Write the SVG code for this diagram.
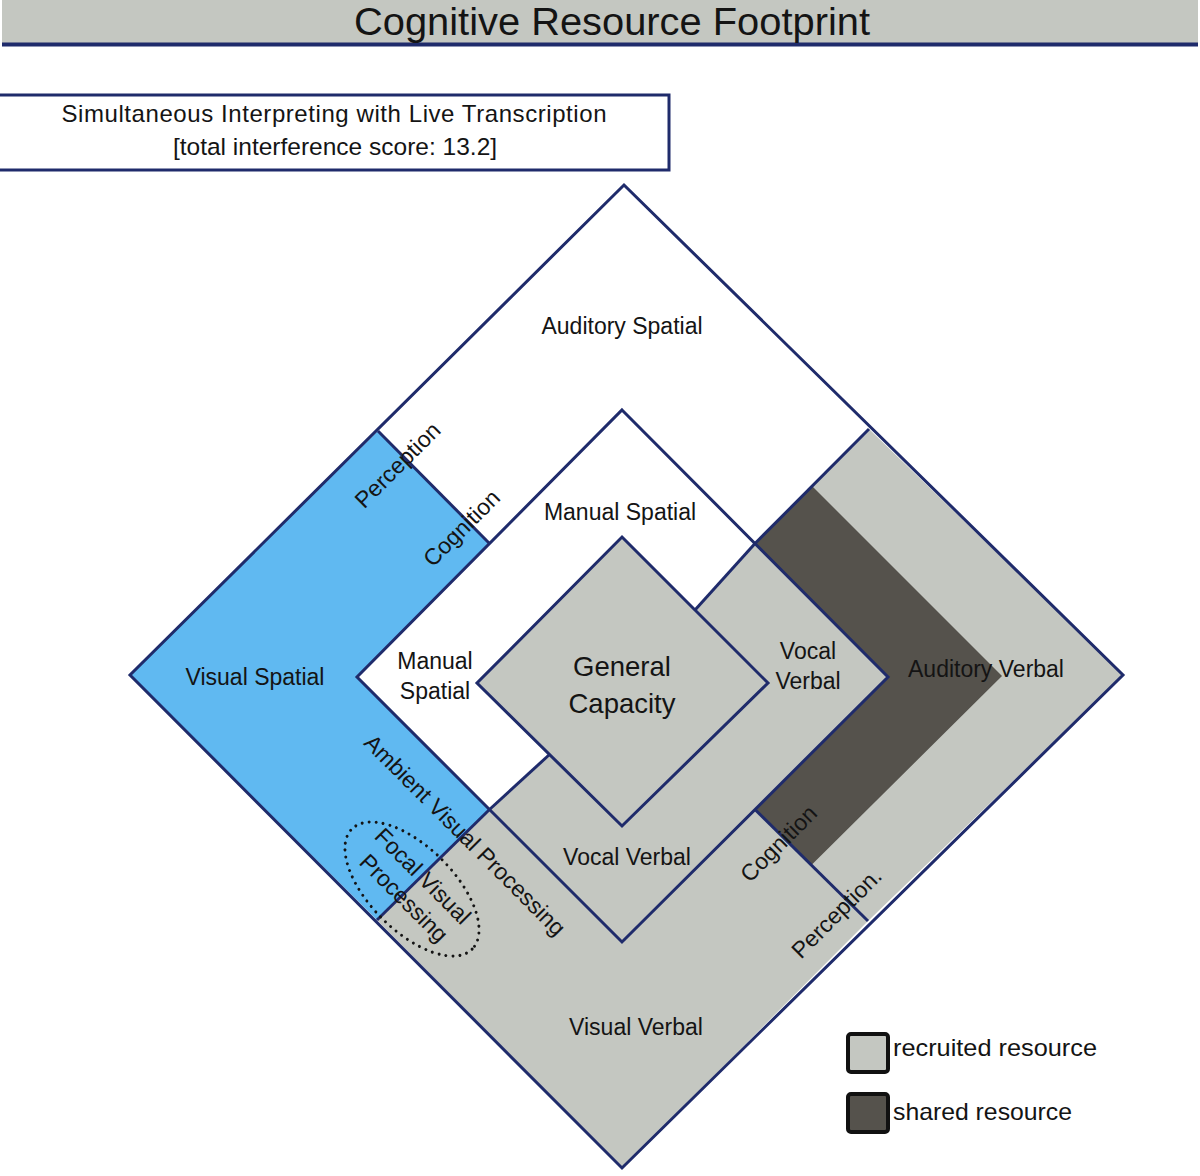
<svg xmlns="http://www.w3.org/2000/svg" width="1200" height="1176" viewBox="0 0 1200 1176">
<style>
text{font-family:"Liberation Sans",Arial,sans-serif;fill:#141414}
.lbl{font-size:23px;text-anchor:middle}
.rot{font-size:23px;text-anchor:middle}
.ln{fill:none;stroke:#1f2b6b;stroke-width:3;stroke-linejoin:miter;stroke-linecap:butt}
.gray{fill:#c4c7c1}
.white{fill:#ffffff}
.blue{fill:#60b9f1}
.dark{fill:#55524c}
</style>
<rect width="1200" height="1176" fill="#ffffff"/>
<g id="title">
<rect x="2" y="0" width="1196" height="44" class="gray"/>
<line x1="2" y1="44.5" x2="1198" y2="44.5" stroke="#1f2b6b" stroke-width="4"/>
<text x="612" y="35" font-size="38.5" text-anchor="middle" textLength="516" lengthAdjust="spacingAndGlyphs">Cognitive Resource Footprint</text>
</g>
<g id="task-box">
<rect x="-3" y="95" width="672" height="75" fill="#ffffff" stroke="#1f2b6b" stroke-width="3"/>
<text x="334" y="122" font-size="24" text-anchor="middle" textLength="545">Simultaneous Interpreting with Live Transcription</text>
<text x="335" y="155" font-size="24.5" text-anchor="middle">[total interference score: 13.2]</text>
</g>
<g id="auditory-spatial">
<polygon class="white" points="378,431 624,185 869,429 755,543.5 622,410 489.5,543.5"/>
<text class="lbl" x="622" y="334">Auditory Spatial</text>
</g>
<g id="visual-spatial">
<polygon class="blue" points="378,431 130,675 377,920 489.5,809.5 357,677 489.5,543.5"/>
<text class="lbl" x="255" y="685">Visual Spatial</text>
</g>
<g id="auditory-verbal">
<polygon class="gray" points="869,429 1123,675 868,921 755,809.5 888,677 755,543.5"/>
<polygon id="shared" class="dark" points="755,543.5 812,486 1002,676 811.5,865 755,809.5 888,677"/>
<text class="lbl" x="986" y="677">Auditory Verbal</text>
</g>
<g id="visual-verbal">
<polygon class="gray" points="377,920 622,1168 868,921 755,809.5 622,942 489.5,809.5"/>
<text class="lbl" x="636" y="1035">Visual Verbal</text>
</g>
<g id="manual-spatial">
<polygon class="white" points="755,543.5 622,410 357,677 489.5,809.5 549.5,754.5 477,683 622,537 695,610"/>
<text class="lbl" x="620" y="520">Manual Spatial</text>
<text class="lbl" x="435" y="669">Manual</text>
<text class="lbl" x="435" y="699">Spatial</text>
</g>
<g id="vocal-verbal">
<polygon class="gray" points="755,543.5 888,677 622,942 489.5,809.5 549.5,754.5 622,826 768,683 695,610"/>
<text class="lbl" x="808" y="659">Vocal</text>
<text class="lbl" x="808" y="689">Verbal</text>
<text class="lbl" x="627" y="865">Vocal Verbal</text>
</g>
<g id="general-capacity">
<polygon class="gray" points="622,537 768,683 622,826 477,683"/>
<text x="622" y="676" font-size="27.5" text-anchor="middle">General</text>
<text x="622" y="713" font-size="27.5" text-anchor="middle">Capacity</text>
</g>
<g id="connectors">
<polygon class="ln" points="624,185 1123,675 622,1168 130,675"/>
<polygon class="ln" points="622,410 888,677 622,942 357,677"/>
<polygon class="ln" points="622,537 768,683 622,826 477,683"/>
<line class="ln" x1="378" y1="431" x2="489.5" y2="543.5"/>
<line class="ln" x1="869" y1="429" x2="755" y2="543.5"/>
<line class="ln" x1="868" y1="921" x2="755" y2="809.5"/>
<line class="ln" x1="377" y1="920" x2="489.5" y2="809.5"/>
<line class="ln" x1="695" y1="610" x2="755" y2="543.5"/>
<line class="ln" x1="549.5" y1="754.5" x2="489.5" y2="809.5"/>
</g>
<g id="stage-labels">
<text class="rot" transform="translate(397.5,465) rotate(-45)" x="0" y="8">Perception</text>
<text class="rot" transform="translate(461.5,528) rotate(-45)" x="0" y="8">Cognition</text>
<text class="rot" transform="translate(778.5,843.5) rotate(-45)" x="0" y="8">Cognition</text>
<text class="rot" transform="translate(836.5,913) rotate(-45)" x="0" y="8">Perception.</text>
<text class="rot" transform="translate(465,835) rotate(45)" x="0" y="8">Ambient Visual Processing</text>
</g>
<g id="focal-visual">
<ellipse cx="412" cy="889" rx="85" ry="42" transform="rotate(45 412 889)" fill="none" stroke="#141414" stroke-width="3" stroke-dasharray="0 7" stroke-linecap="round"/>
<text class="rot" transform="translate(423,876) rotate(45)" x="0" y="8">Focal Visual</text>
<text class="rot" transform="translate(404,898) rotate(45)" x="0" y="8">Processing</text>
</g>
<g id="legend">
<rect x="848" y="1034" width="40" height="38" rx="3" class="gray" stroke="#111" stroke-width="4"/>
<text x="893" y="1056" font-size="24" textLength="204" lengthAdjust="spacingAndGlyphs">recruited resource</text>
<rect x="848" y="1094" width="40" height="38" rx="3" class="dark" stroke="#111" stroke-width="4"/>
<text x="893" y="1120" font-size="24" textLength="179" lengthAdjust="spacingAndGlyphs">shared resource</text>
</g>
</svg>
